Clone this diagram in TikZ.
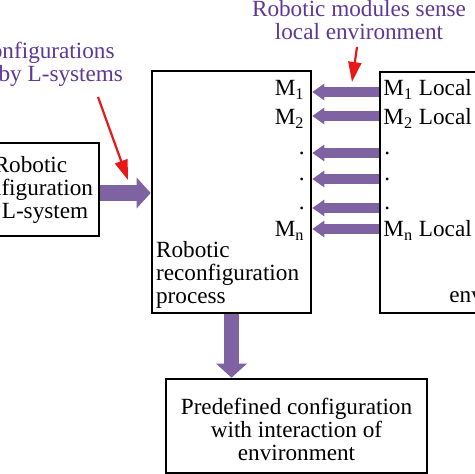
\documentclass[tikz,border=0pt]{standalone}
\usepackage{fontspec}
\setmainfont{Liberation Serif}
\usepackage{xcolor}
\usetikzlibrary{arrows.meta,positioning}
\definecolor{arrowpurple}{RGB}{126,98,162}
\definecolor{notepurple}{RGB}{94,56,148}
\definecolor{notered}{RGB}{232,24,24}
\tikzset{
  box/.style={rectangle, draw, line width=1.3pt, inner sep=0pt, align=center},
  txt/.style={inner sep=0pt},
  note/.style={txt, align=center, text=notepurple},
  fatarrow/.style={-{Triangle[length=7pt, width=15pt]}, line width=7.8pt, arrowpurple},
  modarrow/.style={-{Triangle[length=6pt, width=8pt]}, line width=5pt, arrowpurple},
  redarrow/.style={-{Triangle[length=10pt, width=6.5pt]}, line width=1.1pt, notered}
}

\begin{document}
\begin{tikzpicture}[x=0.5pt, y=-0.5pt, font=\fontsize{11.6}{11.5}\selectfont]
  \useasboundingbox (0,0) rectangle (474,474);
  % boxes
  \node[box, minimum width=68.5pt, minimum height=46.5pt] (lsys) at (30.5,189.5) {Robotic\\configuration\\by L-system};
  \node[box, minimum width=79.5pt, minimum height=121pt] (proc) at (231.5,192) {};
  \node[box, minimum width=90pt, minimum height=120.5pt] (env) at (470,192.5) {};
  \node[box, minimum width=130.5pt, minimum height=47pt] (predef) at (296.5,426) {};
  \node[txt, align=center] (predeftext) at ([yshift=-1.8pt]predef.center) {Predefined configuration\\with interaction of\\environment};
  \node[txt, anchor=south west, align=left] (proctext) at ([shift={(5,-5)}]proc.south west) {Robotic\\reconfiguration\\process};
  \node[txt, anchor=base west] (envtext) at (449,303) {environment};

  % module labels
  \node[txt, anchor=base east] (pm1) at (305,96) {M\textsubscript{1}};
  \node[txt, anchor=base east] (pm2) at (305,125) {M\textsubscript{2}};
  \node[txt, anchor=base east] (pd1) at (305,155) {.};
  \node[txt, anchor=base east] (pd2) at (305,181) {.};
  \node[txt, anchor=base east] (pd3) at (305,210) {.};
  \node[txt, anchor=base east] (pmn) at (305,237) {M\textsubscript{n}};
  \node[txt, anchor=base west] (em1) at (383,96) {M\textsubscript{1} Local environment};
  \node[txt, anchor=base west] (em2) at (383,125) {M\textsubscript{2} Local environment};
  \node[txt, anchor=base west] (ed1) at (384,155) {.};
  \node[txt, anchor=base west] (ed2) at (384,181) {.};
  \node[txt, anchor=base west] (ed3) at (384,210) {.};
  \node[txt, anchor=base west] (emn) at (383,237) {M\textsubscript{n} Local environment};

  % notes
  \node[note] (lnote) at (45,64) {Configurations\\set by L-systems};
  \node[note] (rnote) at (359,20) {Robotic modules sense\\local environment};

  % sensing arrows
  \coordinate (r1) at (0,92);
  \coordinate (r2) at (0,116);
  \coordinate (r3) at (0,153);
  \coordinate (r4) at (0,179);
  \coordinate (r5) at (0,208);
  \coordinate (r6) at (0,229);
  \draw[modarrow] (env.west |- r1) -- (proc.east |- r1);
  \draw[modarrow] (env.west |- r2) -- (proc.east |- r2);
  \draw[modarrow] (env.west |- r3) -- (proc.east |- r3);
  \draw[modarrow] (env.west |- r4) -- (proc.east |- r4);
  \draw[modarrow] (env.west |- r5) -- (proc.east |- r5);
  \draw[modarrow] (env.west |- r6) -- (proc.east |- r6);

  % main flow
  \coordinate (lin) at (0,193);
  \draw[fatarrow] (lsys.east |- lin) -- (proc.west |- lin);
  \draw[fatarrow] (proc.south) -- (proc.south |- predef.north);

  % pointers from notes
  \coordinate (lp) at (98,97);
  \coordinate (lq) at (128,180);
  \coordinate (rp) at (357,47);
  \coordinate (rq) at (352,82);
  \draw[redarrow] (lp) -- (lq);
  \draw[redarrow] (rp) -- (rq);
\end{tikzpicture}
\end{document}
